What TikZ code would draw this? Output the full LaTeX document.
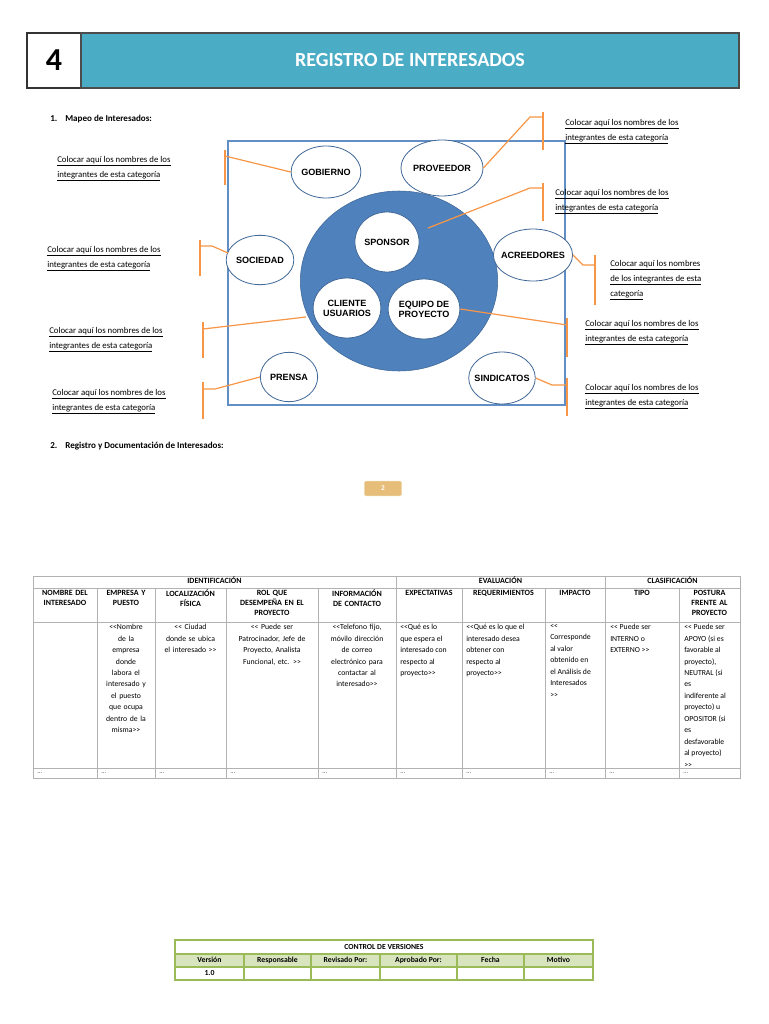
\documentclass[tikz,border=0pt]{standalone}
\usepackage{fontspec}
\setmainfont{Carlito}
\newfontfamily\arialf{Liberation Sans}
\usetikzlibrary{shapes.geometric}
\definecolor{hdr}{HTML}{4BACC6}
\definecolor{bigb}{HTML}{4F81BD}
\definecolor{orl}{HTML}{F79646}
\definecolor{grn}{HTML}{9BBB59}
\definecolor{lgrn}{HTML}{D7E4BD}
\definecolor{gbx}{HTML}{E6BE7A}
\newcommand{\ulx}[1]{\underline{#1}}
\begin{document}
\begin{tikzpicture}[x=0.75pt,y=-0.75pt,
 circ/.style={ellipse,draw=bigb!80!black,fill=white,line width=0.6pt,inner sep=0pt,font=\arialf\bfseries\fontsize{6.8}{7.6}\selectfont,align=center},
 lbl/.style={anchor=north west,font=\fontsize{6.6}{11.2}\selectfont,align=left,inner sep=0pt},
 br/.style={draw=orl,line width=0.9pt},
 hd/.style={font=\bfseries\fontsize{6}{7.4}\selectfont,align=center,inner sep=0pt,anchor=north},
 bd/.style={font=\fontsize{5.8}{8.6}\selectfont,inner sep=0pt,anchor=north},
 gl/.style={draw=black!30,line width=0.5pt},
 vh/.style={font=\bfseries\fontsize{5.8}{7}\selectfont,inner sep=0pt,text height=4.5pt,text depth=1.2pt}]
\useasboundingbox (0,0) rectangle (768,1024);
\fill[white] (0,0) rectangle (768,1024);
% header
\node[draw=black!80,line width=0.8pt,minimum width=40.5pt,minimum height=41.25pt,font=\bfseries\fontsize{24}{24}\selectfont,inner sep=0pt] (num) at (54,60.5) {4};
\node[draw=black!70,fill=hdr,line width=0.8pt,minimum width=493.5pt,minimum height=41.25pt,font=\bfseries\fontsize{15}{16}\selectfont,text=white,inner sep=0pt] (title) at (410,60.5) {REGISTRO DE INTERESADOS};
\node[anchor=west,font=\bfseries\fontsize{6.8}{8}\selectfont,inner sep=0pt] (t1) at (50,119) {1.\hspace{6pt}Mapeo de Interesados:};
\node[anchor=west,font=\bfseries\fontsize{6.8}{8}\selectfont,inner sep=0pt] (t2) at (50,446) {2.\hspace{6pt}Registro y Documentación de Interesados:};
% diagram
\draw[draw=bigb!90,line width=1pt] (228,141) rectangle (565,405);
\node[ellipse,fill=bigb,draw=bigb!80!black,minimum width=148pt,minimum height=135pt] (big) at (399,281) {};
\node[circ,minimum width=48pt,minimum height=45pt] (spo) at (387,242) {SPONSOR};
\node[circ,minimum width=48pt,minimum height=45pt] (cli) at (347,308) {CLIENTE\\USUARIOS};
\node[circ,minimum width=48pt,minimum height=45pt] (equ) at (424,309) {EQUIPO DE\\PROYECTO};
\node[circ,minimum width=45pt,minimum height=39pt] (gob) at (326,172) {GOBIERNO};
\node[circ,minimum width=51pt,minimum height=42pt] (pro) at (442,168) {PROVEEDOR};
\node[circ,minimum width=42pt,minimum height=37pt] (soc) at (260,260) {SOCIEDAD};
\node[circ,minimum width=52pt,minimum height=39pt,inner sep=-3pt] (acr) at (533,255) {ACREEDORES};
\node[circ,minimum width=43pt,minimum height=37pt] (pre) at (289,377) {PRENSA};
\node[circ,minimum width=45pt,minimum height=39pt,inner sep=-3pt] (sin) at (502,378) {SINDICATOS};
% labels
\def\ltxt{\ulx{Colocar aquí los nombres de los}\\\ulx{integrantes de esta categoría}}
\node[lbl] (l1) at (57,156) {\ltxt};
\node[lbl] (l2) at (565,119) {\ltxt};
\node[lbl] (l3) at (555,189) {\ltxt};
\node[lbl] (l4) at (47,246) {\ltxt};
\node[lbl] (l5) at (610,260) {\ulx{Colocar aquí los nombres}\\\ulx{de los integrantes de esta}\\\ulx{categoría}};
\node[lbl] (l6) at (49,327) {\ltxt};
\node[lbl] (l7) at (585,320) {\ltxt};
\node[lbl] (l8) at (52,389) {\ltxt};
\node[lbl] (l9) at (585,384) {\ltxt};
% brackets & connectors
\coordinate (b1) at (225,156); \draw[br] (225,150) -- (225,185);
\draw[br] (b1) -- (gob.west);
\coordinate (b2) at (543,117); \draw[br] (543,112) -- (543,150);
\draw[br] (b2) -- (530,117) -- (pro.east);
\coordinate (b3) at (543,188); \draw[br] (543,183) -- (543,221);
\draw[br] (b3) -- (530,188) -- (428,228);
\coordinate (b4) at (200,246); \draw[br] (200,240) -- (200,276);
\draw[br] (b4) -- (212,246) -- (228,253);
\coordinate (b5) at (595,265); \draw[br] (595,255) -- (595,305);
\draw[br] (acr.east) -- (583,265) -- (b5);
\coordinate (b6) at (203,329); \draw[br] (203,322) -- (203,358);
\draw[br] (b6) -- (306,317);
\coordinate (b7) at (567,325); \draw[br] (567,318) -- (567,357);
\draw[br] (equ.east) -- (b7);
\coordinate (b8) at (203,389); \draw[br] (203,382) -- (203,419);
\draw[br] (b8) -- (215,389) -- (pre.west);
\coordinate (b9) at (567,385); \draw[br] (567,378) -- (567,416);
\draw[br] (sin.east) -- (552,385) -- (b9);
% small box 2
\node[fill=gbx,draw=gbx!60,rounded corners=1.5pt,minimum width=28pt,minimum height=11pt,text=white,font=\bfseries\fontsize{5.5}{6}\selectfont,inner sep=0pt] (two) at (383,488.5) {2};
% table
\draw[gl] (33,576) rectangle (740,778);
\foreach \y in {588,622,768} \draw[gl] (33,\y) -- (740,\y);
\foreach \x in {97,155,226,318,462,545,679} \draw[gl] (\x,588) -- (\x,778);
\foreach \x in {396,605} \draw[gl] (\x,576) -- (\x,778);
\node[hd] (g1) at (214.5,577) {IDENTIFICACIÓN};
\node[hd] (g2) at (500.5,577) {EVALUACIÓN};
\node[hd] (g3) at (672.5,577) {CLASIFICACIÓN};
\node[hd,text width=60pt] (h1) at (65,590) {NOMBRE DEL\\INTERESADO};
\node[hd,text width=42pt] (h2) at (126,590) {EMPRESA Y\\PUESTO};
\node[hd,text width=50pt] (h3) at (190.5,590) {LOCALIZACIÓN\\FÍSICA};
\node[hd,text width=66pt] (h4) at (272,590) {ROL QUE\\DESEMPEÑA EN EL\\PROYECTO};
\node[hd,text width=56pt] (h5) at (357,590) {INFORMACIÓN\\DE CONTACTO};
\node[hd,text width=48pt] (h6) at (429,590) {EXPECTATIVAS};
\node[hd,text width=60pt] (h7) at (503.5,590) {REQUERIMIENTOS};
\node[hd,text width=42pt] (h8) at (575,590) {IMPACTO};
\node[hd,text width=52pt] (h9) at (642,590) {TIPO};
\node[hd,text width=44pt] (h10) at (709.5,590) {POSTURA\\FRENTE AL\\PROYECTO};
\node[bd,text width=38pt,align=center] (c2) at (126,624) {{<}{<}Nombre\\de la\\empresa\\donde\\labora el\\interesado y\\el puesto\\que ocupa\\dentro de la\\misma{>}{>}};
\node[bd,text width=52pt,align=center] (c3) at (190.5,624) {{<}{<} Ciudad\\donde se ubica\\el interesado {>}{>}};
\node[bd,text width=66pt,align=center] (c4) at (272,624) {{<}{<} Puede ser\\Patrocinador, Jefe de\\Proyecto, Analista\\Funcional, etc. {>}{>}};
\node[bd,text width=58pt,align=center] (c5) at (357,624) {{<}{<}Telefono fijo,\\móvilo dirección\\de correo\\electrónico para\\contactar al\\interesado{>}{>}};
\node[bd,anchor=north west,align=left] (c6) at (400,624) {{<}{<}Qué es lo\\que espera el\\interesado con\\respecto al\\proyecto{>}{>}};
\node[bd,anchor=north west,align=left] (c7) at (466,624) {{<}{<}Qué es lo que el\\interesado desea\\obtener con\\respecto al\\proyecto{>}{>}};
\node[bd,anchor=north west,align=left] (c8) at (550,624) {{<}{<}\\Corresponde\\al valor\\obtenido en\\el Análisis de\\Interesados\\{>}{>}};
\node[bd,anchor=north west,align=left] (c9) at (610,624) {{<}{<} Puede ser\\INTERNO o\\EXTERNO {>}{>}};
\node[bd,anchor=north west,align=left] (c10) at (684,624) {{<}{<} Puede ser\\APOYO (si es\\favorable al\\proyecto),\\NEUTRAL (si\\es\\indiferente al\\proyecto) u\\OPOSITOR (si\\es\\desfavorable\\al proyecto)\\{>}{>}};
\foreach \x/\n in {37/d1,101/d2,159/d3,230/d4,322/d5,400/d6,466/d7,549/d8,609/d9,683/d10}
  \node[font=\fontsize{5}{6}\selectfont,anchor=west,inner sep=0pt,text=black!70] (\n) at (\x,773) {...};
% versions
\fill[lgrn] (175,954) rectangle (593,967);
\draw[grn,line width=0.8pt] (175,940) rectangle (593,980);
\draw[grn,line width=0.8pt] (175,954) -- (593,954) (175,967) -- (593,967);
\foreach \x in {244,311,380,457,524} \draw[grn,line width=0.8pt] (\x,954) -- (\x,980);
\node[vh] (cv) at (384,947) {CONTROL DE VERSIONES};
\node[vh] (v1) at (209.5,960.5) {Versión};
\node[vh] (v2) at (277.5,960.5) {Responsable};
\node[vh] (v3) at (345.5,960.5) {Revisado Por:};
\node[vh] (v4) at (418.5,960.5) {Aprobado Por:};
\node[vh] (v5) at (490.5,960.5) {Fecha};
\node[vh] (v6) at (558.5,960.5) {Motivo};
\node[vh] (v7) at (209.5,973.5) {1.0};
\end{tikzpicture}
\end{document}
